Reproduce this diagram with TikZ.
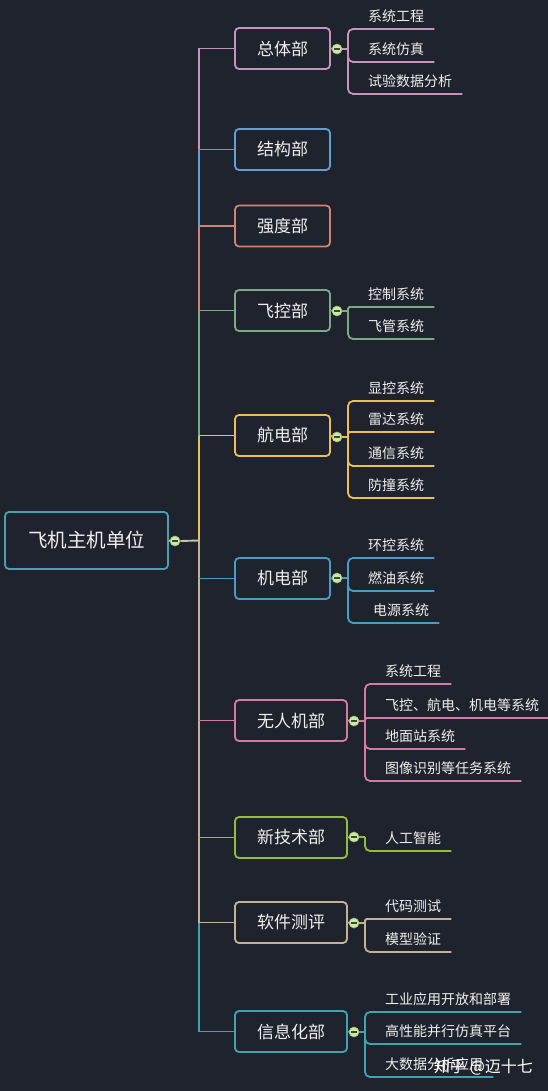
\documentclass[tikz,border=0pt]{standalone}
\usepackage{fontspec}
\setmainfont{Noto Sans CJK SC}
\definecolor{bg}{RGB}{31,35,46}
\definecolor{txt}{RGB}{238,238,238}
\definecolor{czt}{RGB}{196,150,190}
\definecolor{cjg}{RGB}{96,160,214}
\definecolor{cqd}{RGB}{208,132,112}
\definecolor{cfk}{RGB}{122,170,136}
\definecolor{chd}{RGB}{236,190,84}
\definecolor{cjd}{RGB}{74,156,196}
\definecolor{cwr}{RGB}{214,122,168}
\definecolor{cxj}{RGB}{150,188,62}
\definecolor{crj}{RGB}{196,178,150}
\definecolor{cxx}{RGB}{64,164,176}
\definecolor{croot}{RGB}{74,160,172}
\definecolor{crl}{RGB}{196,196,168}
\definecolor{togf}{RGB}{204,234,166}
\definecolor{togd}{RGB}{150,190,100}
\definecolor{togm}{RGB}{60,70,60}
\begin{document}
\begin{tikzpicture}[x=1pt,y=-1pt,
  dept/.style={draw=#1, fill=bg, rounded corners=4pt, line width=1.8pt,
    minimum height=41pt, inner sep=0pt, text=txt, font=\fontsize{17}{20}\selectfont},
  rootbox/.style={draw=croot, fill=bg, rounded corners=4pt, line width=1.8pt,
    minimum width=163pt, minimum height=57pt, inner sep=0pt, text=txt,
    font=\fontsize{19.5}{22}\selectfont},
  leaf/.style={anchor=south west, inner xsep=10pt, inner ysep=5pt,
    text height=10.5pt, text depth=2.5pt, text=txt, font=\fontsize{14}{16}\selectfont},
  tog/.style={circle, fill=togf, draw=togd, line width=0.6pt, minimum size=10pt, inner sep=0pt,
    path picture={\draw[togm, line width=1.1pt]
      ([xshift=-2.6pt]path picture bounding box.center) -- ([xshift=2.6pt]path picture bounding box.center);}},
  lk/.style={draw=#1, line width=1.8pt, rounded corners=5pt},
  lks/.style={draw=#1, line width=1.8pt, rounded corners=1.5pt},
  tr/.style={draw=#1, line width=1.9pt},
  wm/.style={text=white, font=\fontsize{16}{18}\selectfont, inner sep=0pt}
]
\useasboundingbox (0,0) rectangle (548,1091);
\fill[bg] (0,0) rectangle (548,1091);

% trunk coordinates
\coordinate (t0) at (199,540.5);
\coordinate (tzt) at (199,48.5);
\coordinate (tjg) at (199,149.5);
\coordinate (tqd) at (199,226);
\coordinate (tfk) at (199,310.5);
\coordinate (thd) at (199,435.5);
\coordinate (tjd) at (199,578.5);
\coordinate (twr) at (199,720.5);
\coordinate (txj) at (199,837.5);
\coordinate (trj) at (199,922.5);
\coordinate (txx) at (199,1031.5);

% trunk segments
\draw[tr=czt] (tzt) -- (tjg);
\draw[tr=cjg] (tjg) -- (tqd);
\draw[tr=cqd] (tqd) -- (tfk);
\draw[tr=cfk] (tfk) -- (thd);
\draw[tr=chd] (thd) -- (t0);
\draw[tr=crj] (t0) -- (trj);
\draw[tr=cxx] (trj) -- (txx);

% root
\node[rootbox] (root) at (86.5,540.5) {飞机主机单位};
\node[tog] (roott) at (175,541) {};
\draw[tr=crl] (root.east) -- (roott.west);
\draw[tr=crl] (roott.east) -- (t0);

% departments
\node[dept=czt, minimum width=95pt] (zt) at (282.5,48.5) {总体部};
\node[dept=cjg, minimum width=95pt] (jg) at (282.5,149.5) {结构部};
\node[dept=cqd, minimum width=95pt] (qd) at (282.5,226) {强度部};
\node[dept=cfk, minimum width=95pt] (fk) at (282.5,310.5) {飞控部};
\node[dept=chd, minimum width=95pt] (hd) at (282.5,435.5) {航电部};
\node[dept=cjd, minimum width=95pt] (jd) at (282.5,578.5) {机电部};
\node[dept=cwr, minimum width=112pt] (wr) at (291,720.5) {无人机部};
\node[dept=cxj, minimum width=112pt] (xj) at (291,837.5) {新技术部};
\node[dept=crj, minimum width=112pt] (rj) at (291,922.5) {软件测评};
\node[dept=cxx, minimum width=112pt] (xx) at (291,1031.5) {信息化部};

\draw[tr=czt] (tzt) -- (zt.west);
\draw[tr=cjg] (tjg) -- (jg.west);
\draw[tr=cqd] (tqd) -- (qd.west);
\draw[tr=cfk] (tfk) -- (fk.west);
\draw[tr=chd] (thd) -- (hd.west);
\draw[tr=cjd] (tjd) -- (jd.west);
\draw[tr=cwr] (twr) -- (wr.west);
\draw[tr=cxj] (txj) -- (xj.west);
\draw[tr=crj] (trj) -- (rj.west);
\draw[tr=cxx] (txx) -- (xx.west);

% toggles
\node[tog] (ztt) at (337,49) {};
\node[tog] (fkt) at (337,311) {};
\node[tog] (hdt) at (337,437) {};
\node[tog] (jdt) at (337,578) {};
\node[tog] (wrt) at (354,721) {};
\node[tog] (xjt) at (354,837) {};
\node[tog] (rjt) at (354,923) {};
\node[tog] (xxt) at (354,1032) {};
\draw[tr=czt] (zt.east) -- (ztt.west);
\draw[tr=cfk] (fk.east) -- (fkt.west);
\draw[tr=chd] (hd.east) -- (hdt.west);
\draw[tr=cjd] (jd.east) -- (jdt.west);
\draw[tr=cwr] (wr.east) -- (wrt.west);
\draw[tr=cxj] (xj.east) -- (xjt.west);
\draw[tr=crj] (rj.east) -- (rjt.west);
\draw[tr=cxx] (xx.east) -- (xxt.west);

% bracket coordinates and stubs
\coordinate (ztb) at (348,49);
\coordinate (fkb) at (348,311);
\coordinate (hdb) at (348,437);
\coordinate (jdb) at (348,578);
\coordinate (wrb) at (365,721);
\coordinate (xjb) at (365,837);
\coordinate (rjb) at (365,923);
\coordinate (xxb) at (365,1032);
\draw[tr=czt] (ztt.east) -- (ztb);
\draw[tr=cfk] (fkt.east) -- (fkb);
\draw[tr=chd] (hdt.east) -- (hdb);
\draw[tr=cjd] (jdt.east) -- (jdb);
\draw[tr=cwr] (wrt.east) -- (wrb);
\draw[tr=cxj] (xjt.east) -- (xjb);
\draw[tr=crj] (rjt.east) -- (rjb);
\draw[tr=cxx] (xxt.east) -- (xxb);

% leaves
\node[leaf] (zt1) at (358,29) {系统工程};
\node[leaf] (zt2) at (358,62) {系统仿真};
\node[leaf] (zt3) at (358,94) {试验数据分析};
\foreach \c in {zt1,zt2,zt3} \draw[lk=czt] (ztb) |- (\c.south east);

\node[leaf] (fk1) at (358,307) {控制系统};
\node[leaf] (fk2) at (358,339) {飞管系统};
\draw[lks=cfk] (fkb) |- (fk1.south east);
\draw[lk=cfk] (fkb) |- (fk2.south east);

\node[leaf] (hd1) at (358,401) {显控系统};
\node[leaf] (hd2) at (358,432) {雷达系统};
\node[leaf] (hd3) at (358,466) {通信系统};
\node[leaf] (hd4) at (358,498) {防撞系统};
\draw[lks=chd] (hdb) |- (hd2.south east);
\foreach \c in {hd1,hd3,hd4} \draw[lk=chd] (hdb) |- (\c.south east);

\node[leaf] (jd1) at (358,558) {环控系统};
\node[leaf] (jd2) at (358,591) {燃油系统};
\node[leaf] (jd3) at (363,623) {电源系统};
\foreach \c in {jd1,jd2,jd3} \draw[lk=cjd] (jdb) |- (\c.south east);

\node[leaf] (wr1) at (375,684) {系统工程};
\node[leaf] (wr2) at (375,718) {飞控、航电、机电等系统};
\node[leaf] (wr3) at (375,749) {地面站系统};
\node[leaf] (wr4) at (375,781) {图像识别等任务系统};
\draw[lks=cwr] (wrb) |- (wr2.south east);
\foreach \c in {wr1,wr3,wr4} \draw[lk=cwr] (wrb) |- (\c.south east);

\node[leaf] (xj1) at (375,851) {人工智能};
\draw[lk=cxj] (xjb) |- (xj1.south east);

\node[leaf] (rj1) at (375,919) {代码测试};
\node[leaf] (rj2) at (375,952) {模型验证};
\draw[lks=crj] (rjb) |- (rj1.south east);
\draw[lk=crj] (rjb) |- (rj2.south east);

\node[leaf] (xx1) at (375,1012) {工业应用开放和部署};
\node[leaf] (xx2) at (375,1044) {高性能并行仿真平台};
\node[leaf] (xx3) at (375,1077) {大数据分析应用};
\foreach \c in {xx1,xx2,xx3} \draw[lk=cxx] (xxb) |- (\c.south east);

% watermark
\node[wm, anchor=west] (wmk) at (434,1067) {知乎 @迈十七};
\end{tikzpicture}
\end{document}
